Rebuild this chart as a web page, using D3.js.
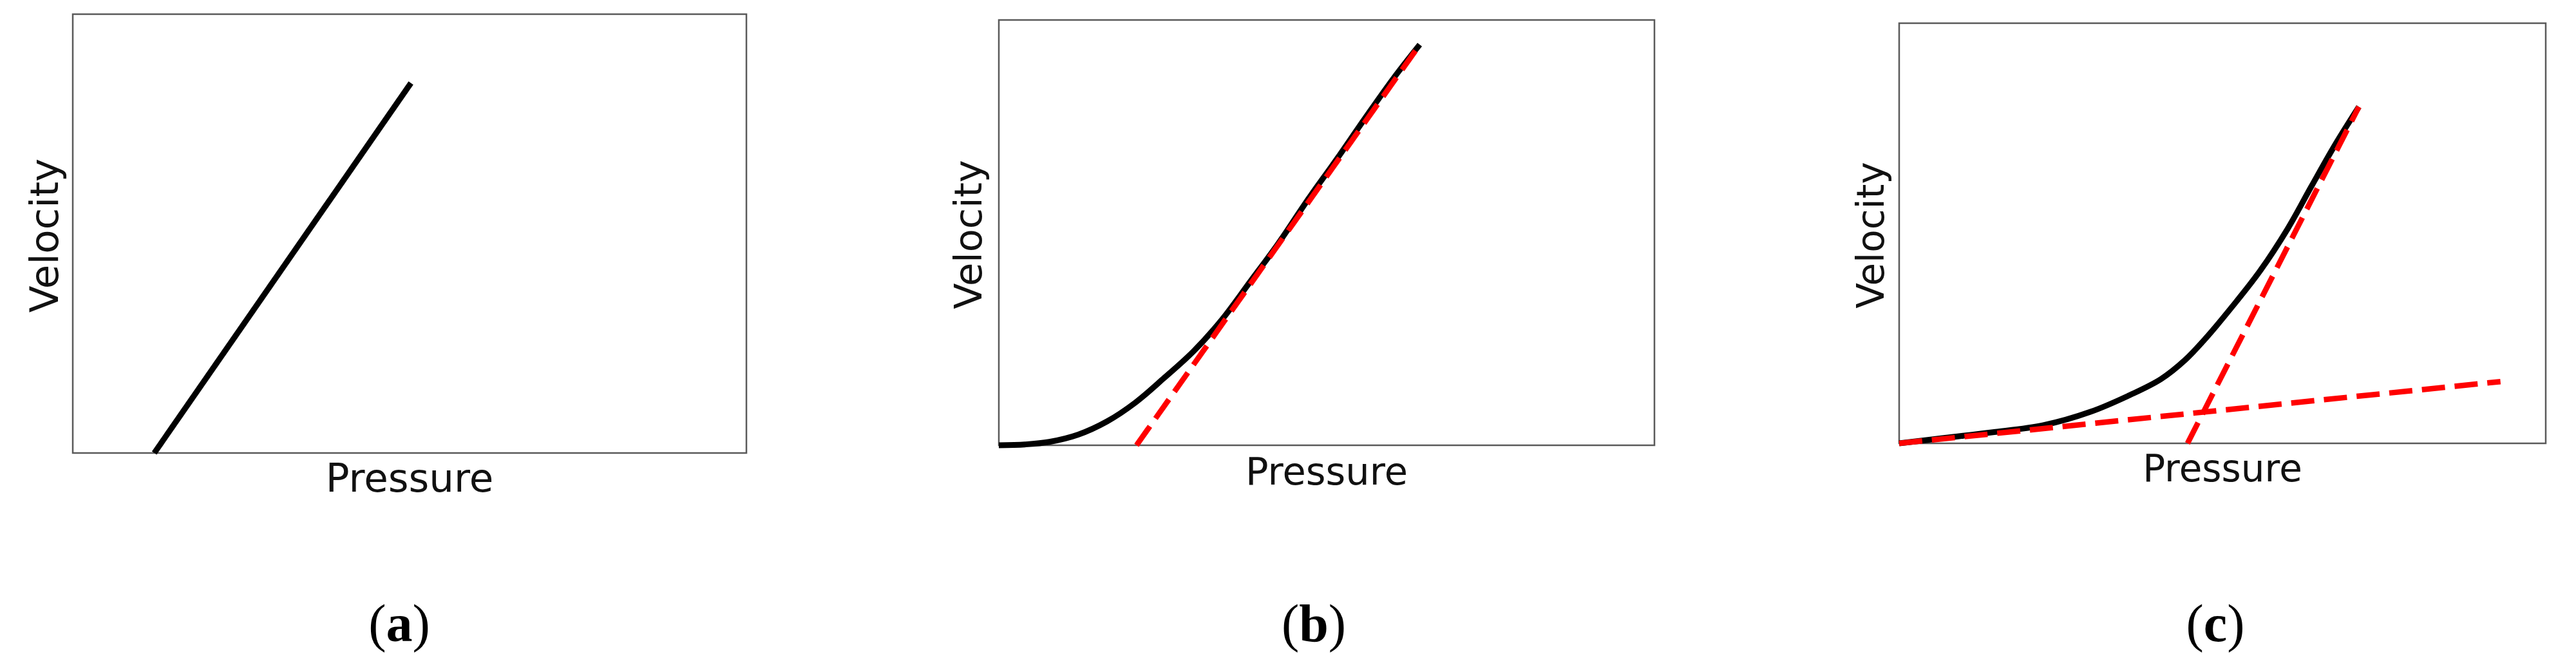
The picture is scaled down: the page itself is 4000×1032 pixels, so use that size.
<!DOCTYPE html>
<html>
<head>
<meta charset="utf-8">
<script src="https://cdn.jsdelivr.net/npm/d3@7"></script>
<style>
    body { margin: 0; background: #fff; }
    svg { display: block; }
</style>
</head>
<body>
<div id="figure"></div>
<script>
// Axis titles and sub-figure tags
const xTitle = "Pressure";
const yTitle = "Velocity";
const panelTags = ["a", "b", "c"];

// (a) linear response
const pressureA = [1.21, 5.02];
const velocityA = [0, 8.43];

// (b) curved start then linear, with tangent fit
const pressureB = [0, 0.40, 0.77, 1.21, 1.65, 2.08, 2.52, 2.97, 3.40, 3.84, 4.27, 4.72, 5.16, 5.59, 6.03, 6.42];
const velocityB = [0, 0.02, 0.08, 0.25, 0.56, 1.00, 1.58, 2.21, 2.95, 3.86, 4.76, 5.79, 6.74, 7.70, 8.65, 9.42];
const fitPressureB = [2.10, 6.42];
const fitVelocityB = [0, 9.42];

// (c) two regimes, two fits
const pressureC = [0, 0.71, 1.43, 2.23, 2.96, 3.57, 4.05, 4.42, 4.73, 5.16, 5.58, 6.01, 6.37, 6.74, 7.11];
const velocityC = [0, 0.13, 0.26, 0.43, 0.75, 1.15, 1.53, 1.98, 2.48, 3.27, 4.10, 5.11, 6.10, 7.10, 8.01];
const lowFitPressureC = [0, 9.30];
const lowFitVelocityC = [0, 1.47];
const highFitPressureC = [4.46, 7.11];
const highFitVelocityC = [0, 8.01];

const domainP = [0, 10];
const domainV = [0, 10];

// Layout of each panel box (pixels), kept apart from the data
const panels = [
    { box: [113, 22, 1159, 703], font: 61, yTitleX: 90, xTitleY: 763, tagX: 620,
      solid: [[pressureA, velocityA]], dashed: [] },
    { box: [1551, 31, 2569, 691], font: 59, yTitleX: 1524, xTitleY: 752, tagX: 2040,
      solid: [[pressureB, velocityB]], dashed: [[fitPressureB, fitVelocityB]] },
    { box: [2949, 36, 3953, 688], font: 58, yTitleX: 2925, xTitleY: 747, tagX: 3440,
      solid: [[pressureC, velocityC]], dashed: [[lowFitPressureC, lowFitVelocityC], [highFitPressureC, highFitVelocityC]] }
];

const zip = (xs, ys) => xs.map((x, i) => [x, ys[i]]);

const svg = d3.select("#figure").append("svg")
    .attr("width", 4000)
    .attr("height", 1032);

panels.forEach((p, i) => {
    const [x0, y0, x1, y1] = p.box;
    const x = d3.scaleLinear().domain(domainP).range([x0, x1]);
    const y = d3.scaleLinear().domain(domainV).range([y1, y0]);

    const line = d3.line()
        .x(d => x(d[0]))
        .y(d => y(d[1]))
        .curve(d3.curveCatmullRom.alpha(0.5));

    const g = svg.append("g");

    // plain frame, no ticks
    g.append("rect")
        .attr("x", x0)
        .attr("y", y0)
        .attr("width", x1 - x0)
        .attr("height", y1 - y0)
        .style("fill", "none")
        .style("stroke", "#5a5a5a")
        .style("stroke-width", 2.5);

    g.selectAll(".solid")
        .data(p.solid)
        .enter().append("path")
        .attr("class", "solid")
        .attr("d", d => line(zip(d[0], d[1])))
        .style("fill", "none")
        .style("stroke", "#000")
        .style("stroke-width", 9)
        .style("stroke-linejoin", "round");

    g.selectAll(".dashed")
        .data(p.dashed)
        .enter().append("path")
        .attr("class", "dashed")
        .attr("d", d => line(zip(d[0], d[1])))
        .style("fill", "none")
        .style("stroke", "#ff0000")
        .style("stroke-width", 8.5)
        .style("stroke-dasharray", "36,15");

    g.append("text")
        .attr("x", (x0 + x1) / 2)
        .attr("y", p.xTitleY)
        .attr("text-anchor", "middle")
        .style("font-family", "DejaVu Sans")
        .style("font-size", p.font + "px")
        .style("fill", "#111")
        .text(xTitle);

    g.append("text")
        .attr("transform", `translate(${p.yTitleX},${(y0 + y1) / 2 + 3}) rotate(-90)`)
        .attr("text-anchor", "middle")
        .style("font-family", "DejaVu Sans")
        .style("font-size", p.font + "px")
        .style("fill", "#111")
        .text(yTitle);

    const tag = g.append("text")
        .attr("x", p.tagX)
        .attr("y", 995)
        .attr("text-anchor", "middle")
        .style("font-family", "Liberation Serif")
        .style("font-size", "82px")
        .style("fill", "#000");
    tag.append("tspan").text("(");
    tag.append("tspan").style("font-weight", "bold").text(panelTags[i]);
    tag.append("tspan").text(")");
});
</script>
</body>
</html>
